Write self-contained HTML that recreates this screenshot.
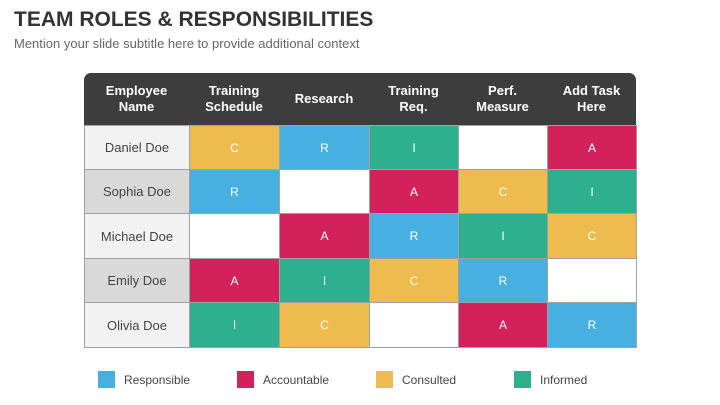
<!DOCTYPE html>
<html><head><meta charset="utf-8"><style>
body{margin:0;width:720px;height:405px;background:#fff;font-family:"Liberation Sans",sans-serif;position:relative;overflow:hidden}
.t{position:absolute;left:14px;top:8px;font-size:21px;font-weight:bold;color:#333}
.s{position:absolute;left:14px;top:36px;font-size:13px;color:#666}
#tbl{position:absolute;left:84px;top:73px}
.hd{position:absolute;top:0;height:52px;color:#fff;font-weight:bold;font-size:13px;display:flex;align-items:center;justify-content:center;text-align:center;line-height:16px}
.c{position:absolute;box-sizing:border-box;border:1px solid #a0a0a0;display:flex;align-items:center;justify-content:center;font-size:12px;color:#fff}
.n{color:#444;font-size:13px}
.lg{position:absolute;top:371px;width:17px;height:17px}
.ll{position:absolute;top:373px;font-size:12px;color:#444}
</style></head><body>
<div class="t">TEAM ROLES &amp; RESPONSIBILITIES</div>
<div class="s">Mention your slide subtitle here to provide additional context</div>
<div id="tbl">
<div style="position:absolute;left:0;top:0;width:552px;height:52px;background:#3d3d3d;border-radius:7px 7px 0 0"></div>
</div>
<div>
<div class="lg" style="left:98px;background:#47b0e0"></div><div class="ll" style="left:124px">Responsible</div>
<div class="lg" style="left:237px;background:#d3225b"></div><div class="ll" style="left:263px">Accountable</div>
<div class="lg" style="left:376px;background:#eebc4e"></div><div class="ll" style="left:402px">Consulted</div>
<div class="lg" style="left:514px;background:#2eaf8e"></div><div class="ll" style="left:540px">Informed</div>
</div>
<script>
const headers=["Employee<br>Name","Training<br>Schedule","Research","Training<br>Req.","Perf.<br>Measure","Add Task<br>Here"];
const employees=["Daniel Doe","Sophia Doe","Michael Doe","Emily Doe","Olivia Doe"];
const roles=[
["C","R","I","","A"],
["R","","A","C","I"],
["","A","R","I","C"],
["A","I","C","R",""],
["I","C","","A","R"]];
const colors={R:"#47b0e0",A:"#d3225b",C:"#eebc4e",I:"#2eaf8e","":"#fff"};
const tbl=document.getElementById('tbl');
const colX=[0,105,195,285,374,463,552];
const rowY=[52,96,140,185,229,274];
headers.forEach((h,i)=>{const d=document.createElement('div');d.className='hd';


d.style.left=colX[i]+'px';d.style.width=(colX[i+1]-colX[i])+'px';d.innerHTML=h;tbl.appendChild(d);});
employees.forEach((e,r)=>{
const n=document.createElement('div');n.className='c n';


n.style.cssText+=`left:0;top:${rowY[r]}px;width:${colX[1]+1}px;height:${rowY[r+1]-rowY[r]+1}px;background:${r%2?'#d9d9d9':'#f2f2f2'}`;
n.textContent=e;tbl.appendChild(n);
roles[r].forEach((v,c)=>{const d=document.createElement('div');d.className='c';


d.style.cssText+=`left:${colX[c+1]}px;top:${rowY[r]}px;width:${colX[c+2]-colX[c+1]+1}px;height:${rowY[r+1]-rowY[r]+1}px;background:${colors[v]}`;
d.textContent=v;tbl.appendChild(d);});
});
</script>
</body></html>
